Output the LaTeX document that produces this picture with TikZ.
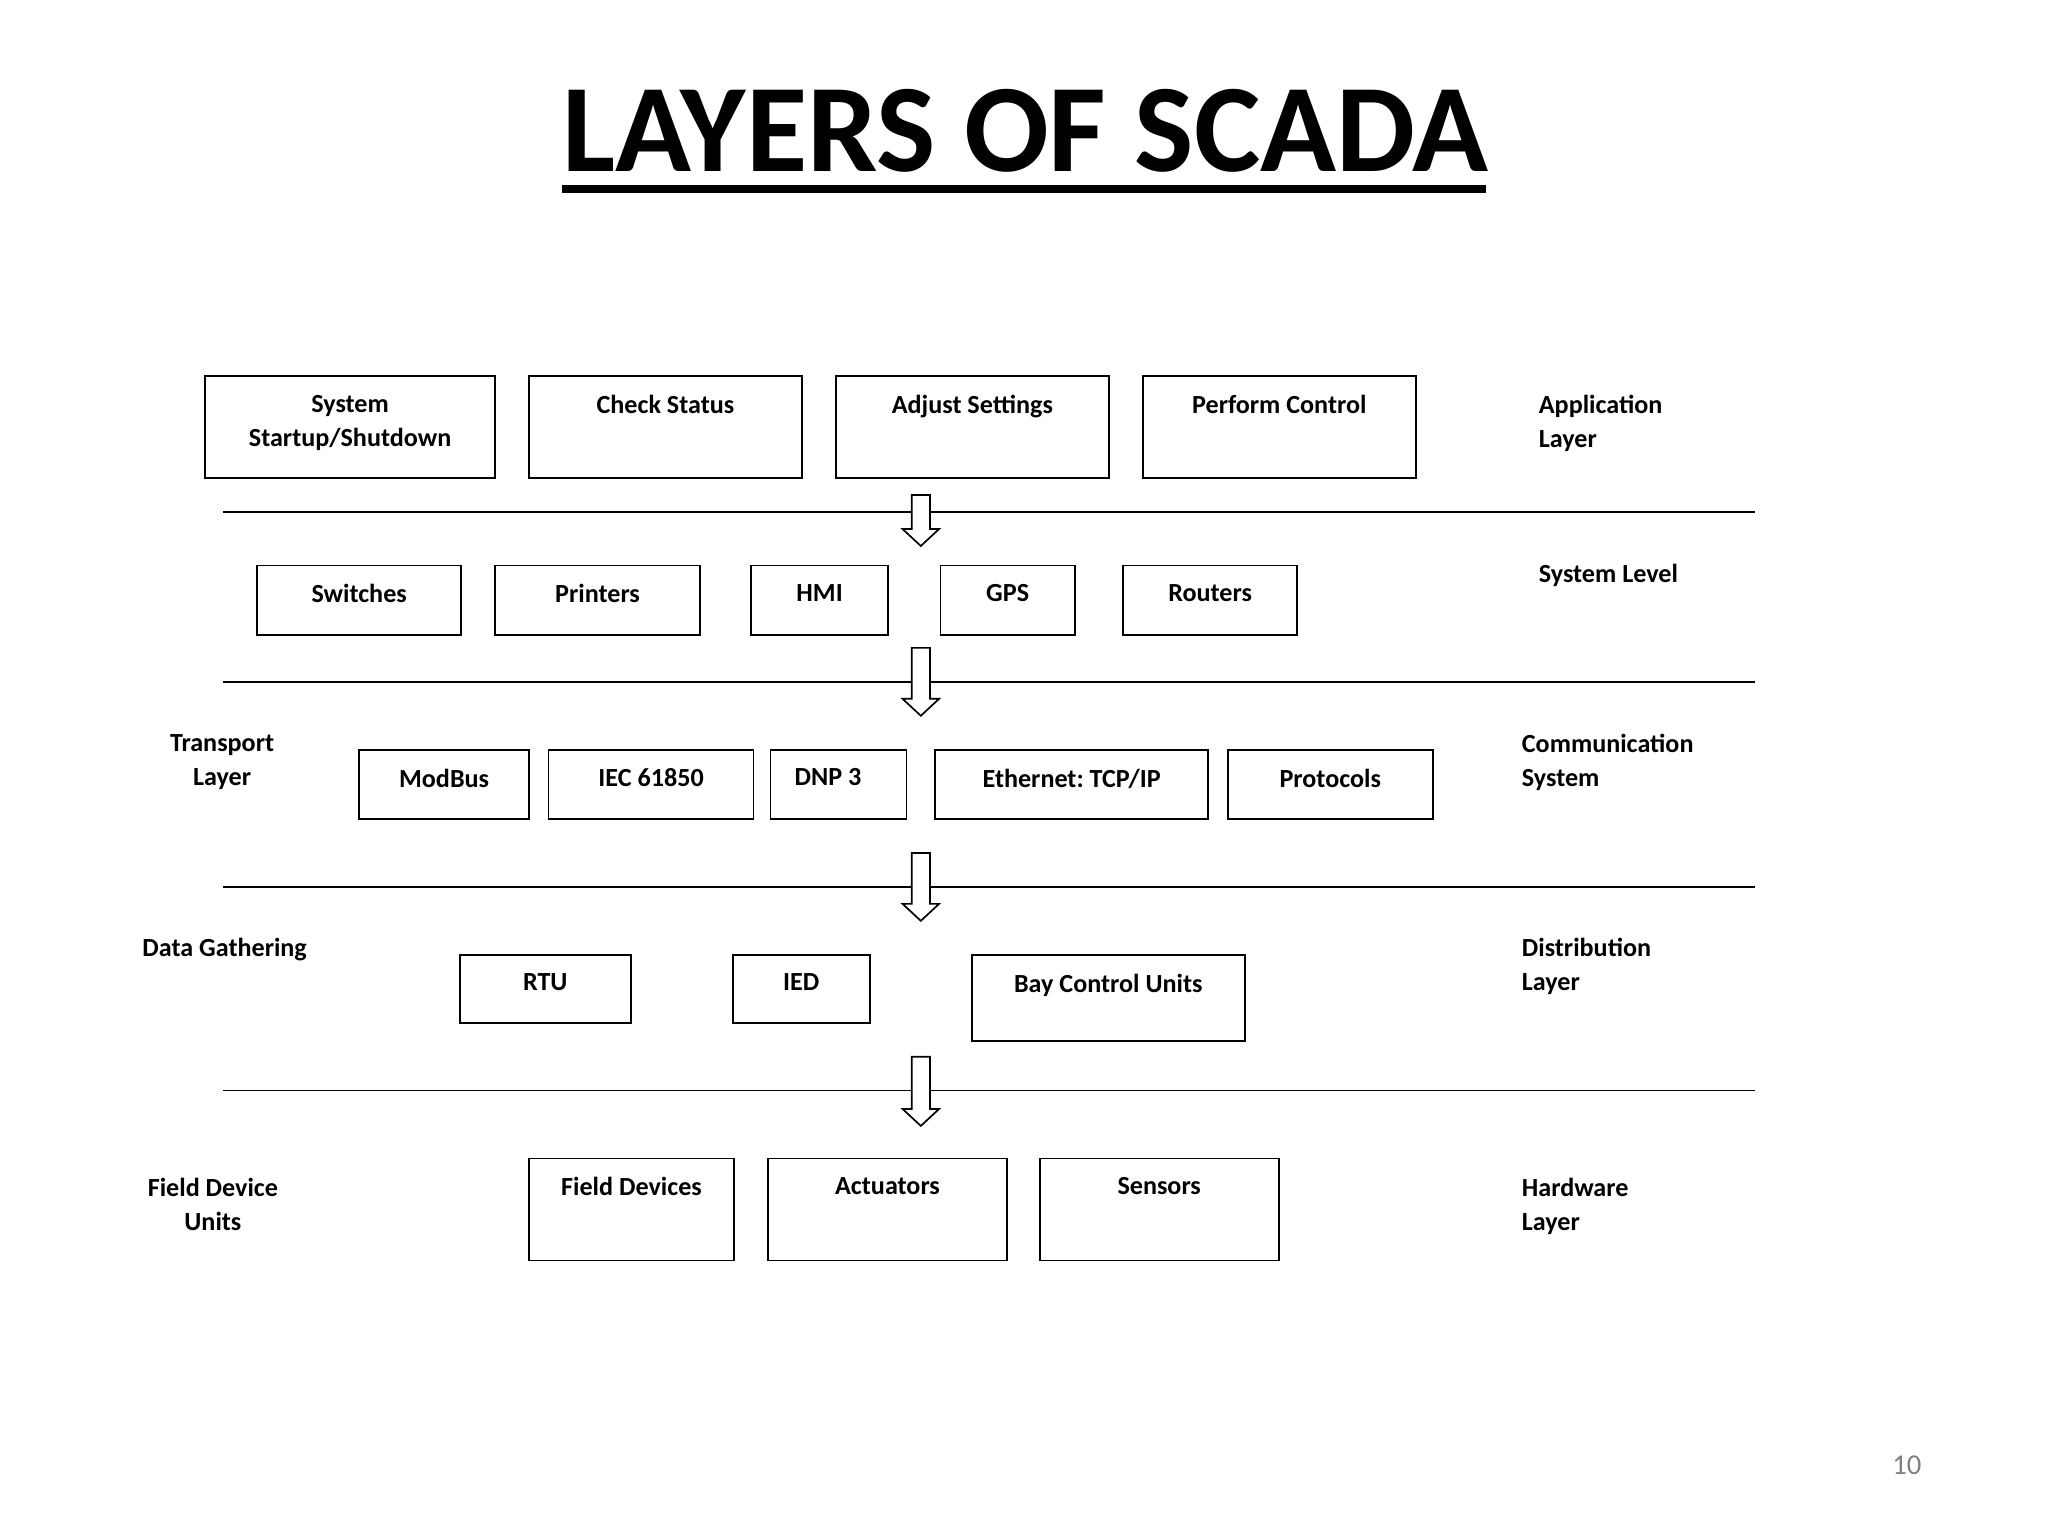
\documentclass[tikz,border=0pt]{standalone}
\usepackage{fontspec}
\setmainfont{Carlito}
\frenchspacing
\begin{document}
\begin{tikzpicture}[x=1pt,y=-1pt,
  box/.style={draw,line width=1.3pt,inner sep=0pt},
  txt/.style={font=\bfseries\fontsize{20}{26}\selectfont,align=center,inner sep=0pt,anchor=north},
  lbl/.style={font=\bfseries\fontsize{20}{26}\selectfont,inner sep=0pt,anchor=north},
  sep/.style={line width=1.3pt},
  arr/.style={draw,line width=1.3pt,fill=white,line join=miter}]
\useasboundingbox (0,0) rectangle (1568,1176);
\newcommand\bx[6]{\node[box,minimum width={(#4-#2)*1pt},minimum height={(#5-#3)*1pt}] (#1) at ({(#2+#4)/2},{(#3+#5)/2}) {};
  \node[txt] at ([yshift=-15pt]#1.north) {#6};}
\newcommand\darrow[2]{\draw[arr] (698,#1) -- (712,#1) -- (712,#2-13) -- (719,#2-13) -- (705,#2) -- (691,#2-13) -- (698,#2-13) -- cycle;}
% title
\node[font=\bfseries\fontsize{96}{100}\selectfont,inner sep=0pt] (title) at (785,100) {LAYERS OF SCADA};
\draw[line width=6pt] (430,145) -- (1138,145);
% row 1
\bx{a1}{157}{288}{379}{366}{System\\Startup/Shutdown}
\bx{a2}{405}{288}{614}{366}{Check Status}
\bx{a3}{640}{288}{849}{366}{Adjust Settings}
\bx{a4}{875}{288}{1084}{366}{Perform Control}
\node[lbl,align=left,anchor=north west] (l1) at (1178,302) {Application\\Layer};
\coordinate (s1a) at (171,392); \coordinate (s1b) at (1344,392);
\draw[sep] (s1a) -- (s1b);
\darrow{379}{418}
% row 2
\bx{b1}{197}{433}{353}{486}{Switches}
\bx{b2}{379}{433}{536}{486}{Printers}
\bx{b3}{575}{433}{680}{486}{HMI}
\bx{b4}{720}{433}{823}{486}{GPS}
\bx{b5}{860}{433}{993}{486}{Routers}
\node[lbl,anchor=north west] (l2) at (1178,432) {System Level};
\coordinate (s2a) at (171,522); \coordinate (s2b) at (1344,522);
\draw[sep] (s2a) -- (s2b);
\darrow{496}{548}
% row 3
\bx{c1}{275}{574}{405}{627}{ModBus}
\bx{c2}{420}{574}{577}{627}{IEC 61850}
\bx{c3}{590}{574}{694}{627}{DNP 3\hspace*{16pt}}
\bx{c4}{716}{574}{925}{627}{Ethernet: TCP/IP}
\bx{c5}{940}{574}{1097}{627}{Protocols}
\node[lbl,align=center] (l3a) at (170,562) {Transport\\Layer};
\node[lbl,align=left,anchor=north west] (l3b) at (1165,562) {Communication\\System};
\coordinate (s3a) at (171,679); \coordinate (s3b) at (1344,679);
\draw[sep] (s3a) -- (s3b);
\darrow{653}{705}
% row 4
\bx{d1}{352}{731}{483}{783}{RTU}
\bx{d2}{561}{731}{666}{783}{IED}
\bx{d3}{744}{731}{953}{797}{Bay Control Units}
\node[lbl] (l4a) at (172,718) {Data Gathering};
\node[lbl,align=left,anchor=north west] (l4b) at (1165,718) {Distribution\\Layer};
\coordinate (s4a) at (171,835); \coordinate (s4b) at (1344,835);
\draw[sep] (s4a) -- (s4b);
\darrow{809}{862}
% row 5
\bx{e1}{405}{887}{562}{965}{Field Devices}
\bx{e2}{588}{887}{771}{965}{Actuators}
\bx{e3}{796}{887}{979}{965}{Sensors}
\node[lbl,align=center] (l5a) at (163,902) {Field Device\\Units};
\node[lbl,align=left,anchor=north west] (l5b) at (1165,902) {Hardware\\Layer};
% page number
\node[font=\fontsize{22}{26}\selectfont,text=gray,inner sep=0pt] (pg) at (1460,1122) {10};
\end{tikzpicture}
\end{document}
